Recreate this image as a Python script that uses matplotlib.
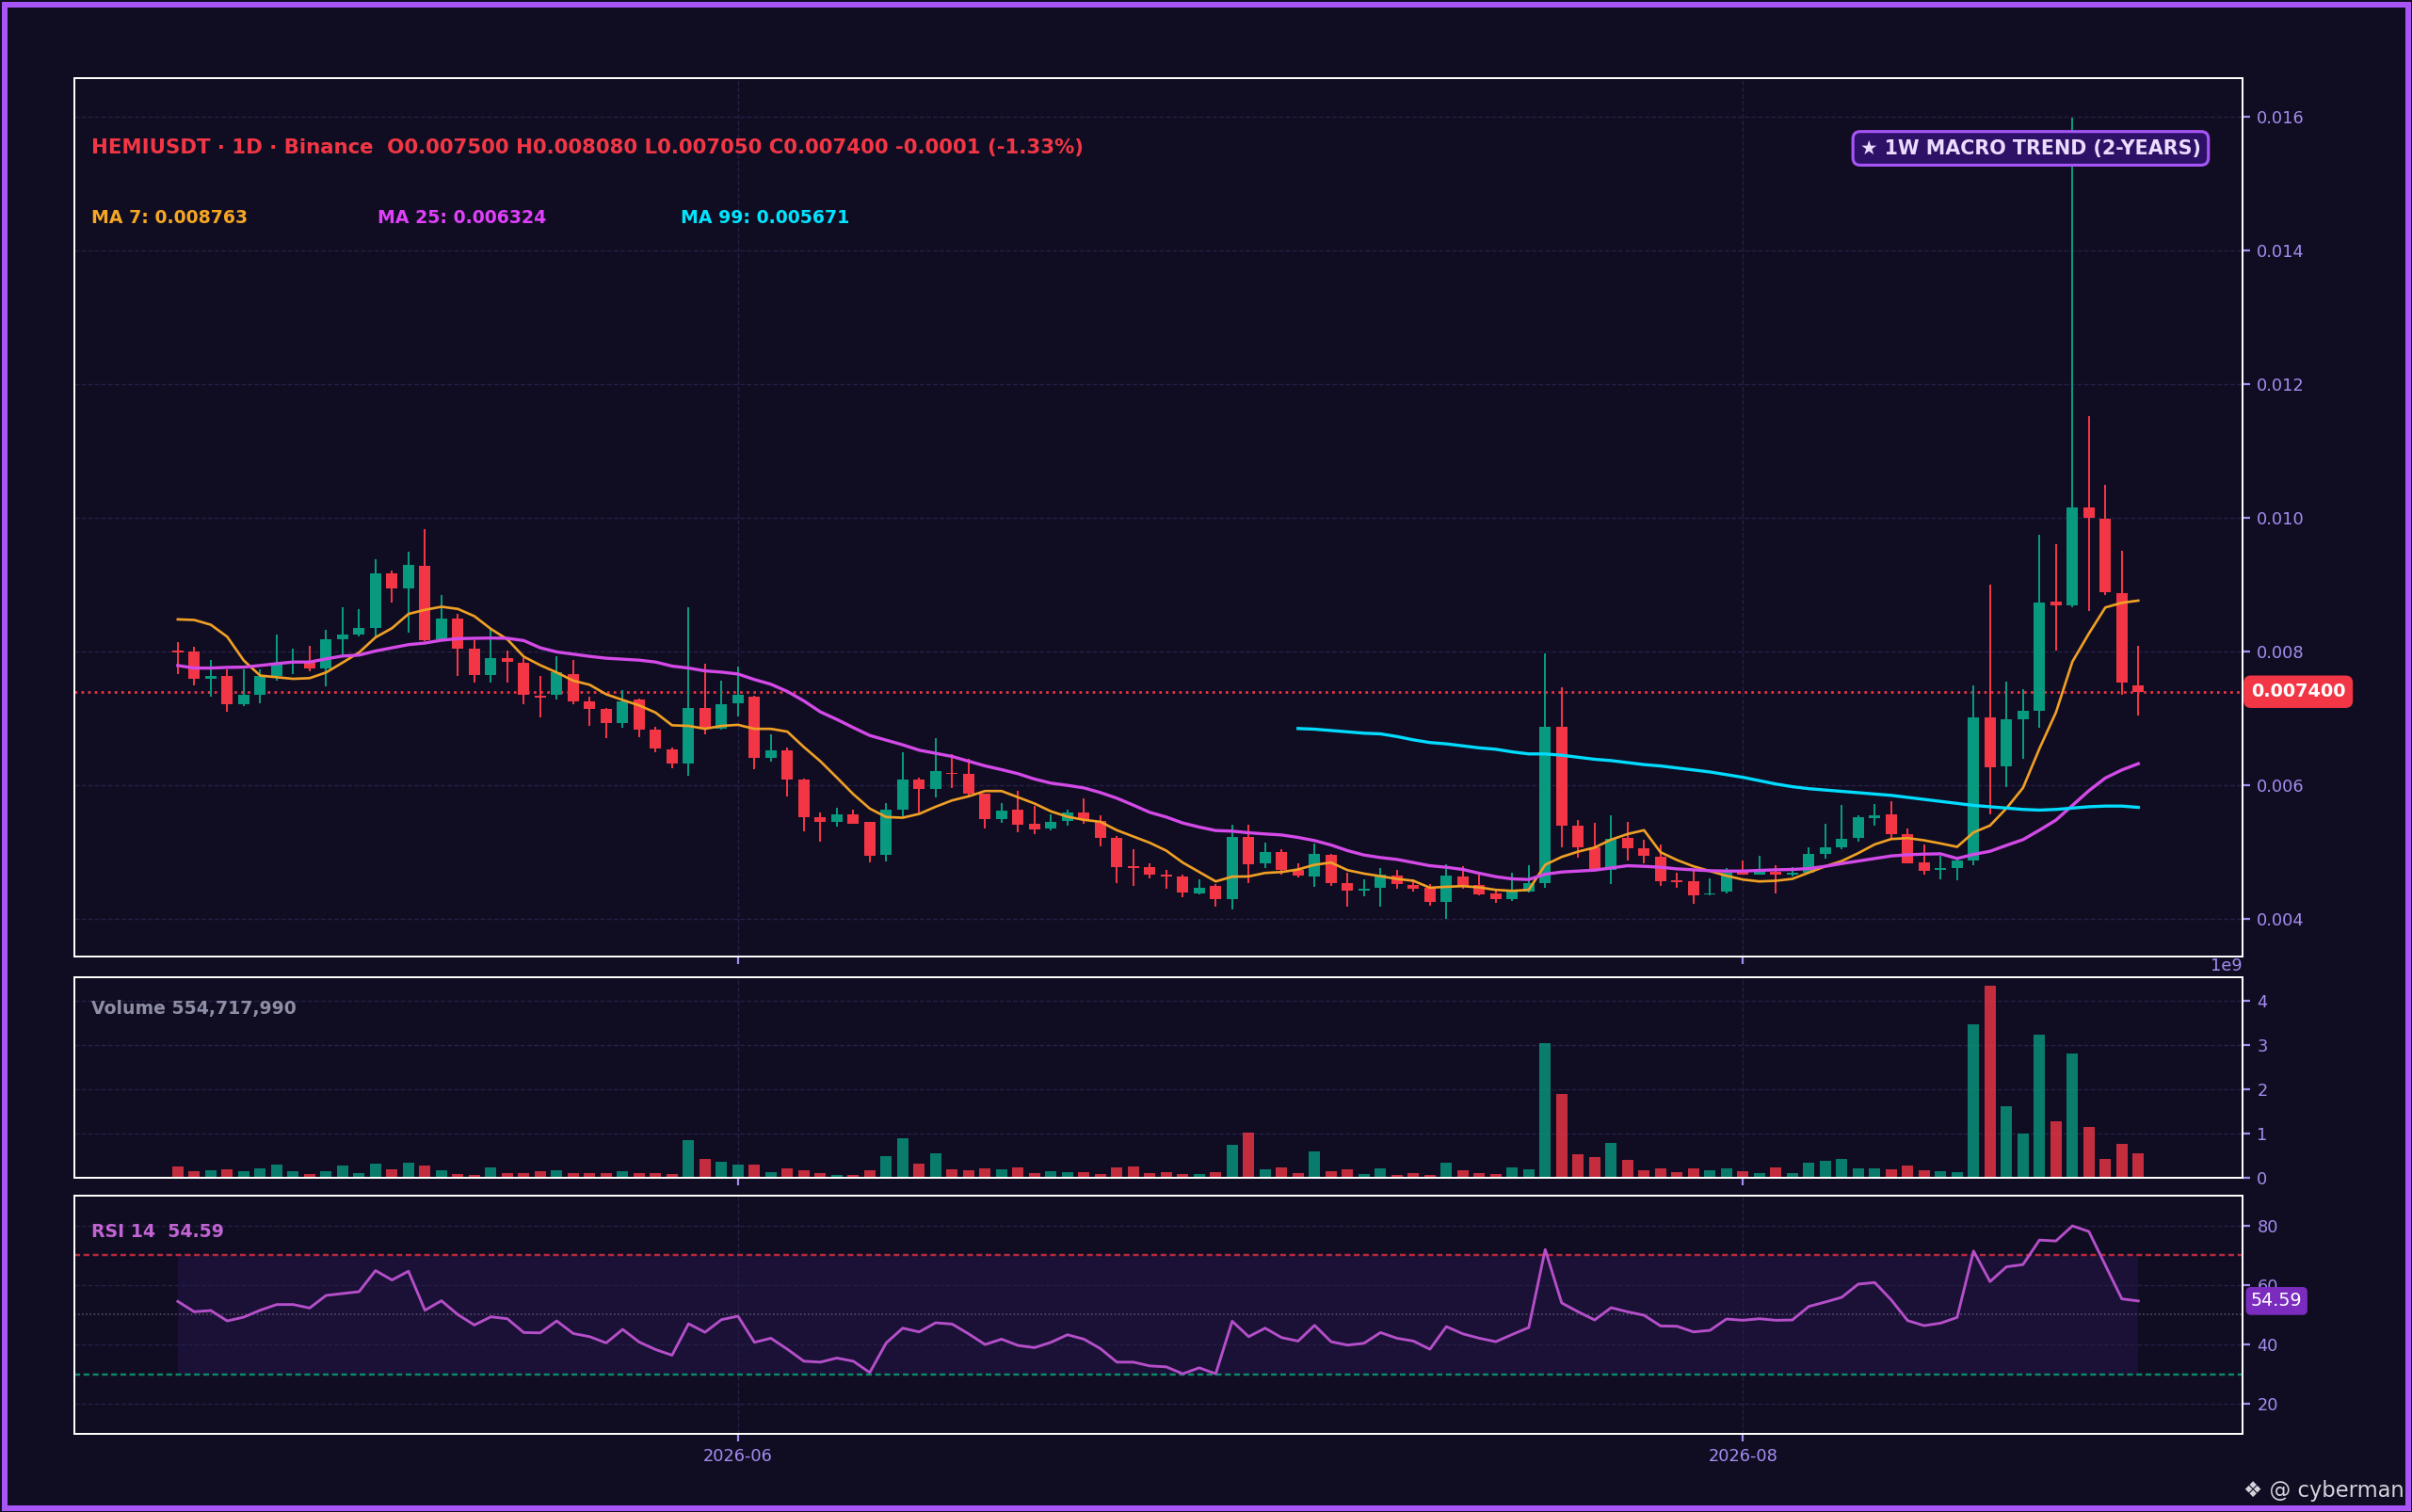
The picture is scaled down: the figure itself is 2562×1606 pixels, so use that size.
import numpy as np
import pandas as pd
import matplotlib
matplotlib.use("Agg")
import matplotlib.pyplot as plt
import matplotlib.dates as mdates
from matplotlib.ticker import FormatStrFormatter
from matplotlib.patches import Rectangle

BG = "#100d22"
UP = "#089981"
DOWN = "#f23645"
TICK = "#a58cf0"
GRID = "#261f45"

start_date = "2026-04-28"

opens = [0.00801, 0.00800, 0.00759, 0.00764, 0.00722, 0.00736, 0.00764, 0.00783, 0.00783, 0.00775,
         0.00819, 0.00825, 0.00836, 0.00917, 0.00895, 0.00928, 0.00819, 0.00850, 0.00805, 0.00765,
         0.00791, 0.00783, 0.00734, 0.00736, 0.00766, 0.00725, 0.00714, 0.00693, 0.00728, 0.00683,
         0.00654, 0.00632, 0.00715, 0.00685, 0.00723, 0.00733, 0.00641, 0.00652, 0.00609, 0.00552,
         0.00546, 0.00556, 0.00545, 0.00496, 0.00563, 0.00608, 0.00595, 0.00619, 0.00617, 0.00587,
         0.00550, 0.00563, 0.00542, 0.00535, 0.00547, 0.00559, 0.00547, 0.00522, 0.00478, 0.00478,
         0.00466, 0.00463, 0.00438, 0.00449, 0.00430, 0.00523, 0.00484, 0.00500, 0.00473, 0.00464,
         0.00496, 0.00454, 0.00443, 0.00447, 0.00465, 0.00451, 0.00447, 0.00426, 0.00463, 0.00451,
         0.00438, 0.00430, 0.00441, 0.00454, 0.00687, 0.00539, 0.00507, 0.00474, 0.00521, 0.00506,
         0.00493, 0.00458, 0.00456, 0.00437, 0.00441, 0.00471, 0.00467, 0.00471, 0.00467, 0.00469,
         0.00497, 0.00508, 0.00521, 0.00551, 0.00556, 0.00527, 0.00485, 0.00473, 0.00476, 0.00487,
         0.00701, 0.00628, 0.00699, 0.00711, 0.00875, 0.00869, 0.01016, 0.00999, 0.00887, 0.00750]
highs = [0.00814, 0.00807, 0.00787, 0.00773, 0.00774, 0.00774, 0.00825, 0.00805, 0.00809, 0.00833,
         0.00866, 0.00863, 0.00938, 0.00921, 0.00949, 0.00983, 0.00884, 0.00857, 0.00817, 0.00834,
         0.00802, 0.00790, 0.00764, 0.00793, 0.00787, 0.00733, 0.00716, 0.00742, 0.00730, 0.00687,
         0.00657, 0.00867, 0.00782, 0.00756, 0.00777, 0.00734, 0.00676, 0.00657, 0.00610, 0.00559,
         0.00566, 0.00564, 0.00545, 0.00574, 0.00649, 0.00612, 0.00670, 0.00646, 0.00639, 0.00588,
         0.00574, 0.00592, 0.00569, 0.00556, 0.00564, 0.00580, 0.00555, 0.00524, 0.00504, 0.00483,
         0.00473, 0.00466, 0.00459, 0.00452, 0.00541, 0.00541, 0.00515, 0.00504, 0.00483, 0.00513,
         0.00498, 0.00469, 0.00460, 0.00476, 0.00473, 0.00459, 0.00452, 0.00482, 0.00479, 0.00466,
         0.00442, 0.00470, 0.00481, 0.00797, 0.00747, 0.00548, 0.00544, 0.00555, 0.00545, 0.00518,
         0.00511, 0.00470, 0.00472, 0.00461, 0.00477, 0.00487, 0.00494, 0.00480, 0.00478, 0.00508,
         0.00542, 0.00570, 0.00555, 0.00572, 0.00576, 0.00535, 0.00511, 0.00494, 0.00493, 0.00749,
         0.00900, 0.00755, 0.00744, 0.00975, 0.00961, 0.01599, 0.01152, 0.01049, 0.00951, 0.00808]
lows = [0.00767, 0.00750, 0.00732, 0.00710, 0.00718, 0.00723, 0.00757, 0.00767, 0.00771, 0.00748,
        0.00794, 0.00823, 0.00822, 0.00873, 0.00828, 0.00816, 0.00817, 0.00764, 0.00754, 0.00753,
        0.00754, 0.00722, 0.00702, 0.00729, 0.00722, 0.00689, 0.00671, 0.00686, 0.00672, 0.00649,
        0.00625, 0.00615, 0.00676, 0.00683, 0.00703, 0.00624, 0.00636, 0.00584, 0.00531, 0.00516,
        0.00538, 0.00542, 0.00485, 0.00486, 0.00554, 0.00560, 0.00582, 0.00596, 0.00582, 0.00535,
        0.00544, 0.00530, 0.00527, 0.00533, 0.00540, 0.00543, 0.00509, 0.00454, 0.00450, 0.00461,
        0.00446, 0.00432, 0.00437, 0.00419, 0.00414, 0.00454, 0.00476, 0.00467, 0.00462, 0.00448,
        0.00450, 0.00419, 0.00434, 0.00419, 0.00446, 0.00441, 0.00420, 0.00400, 0.00445, 0.00435,
        0.00424, 0.00427, 0.00440, 0.00447, 0.00508, 0.00492, 0.00473, 0.00453, 0.00488, 0.00484,
        0.00450, 0.00447, 0.00423, 0.00436, 0.00438, 0.00466, 0.00466, 0.00439, 0.00463, 0.00468,
        0.00490, 0.00505, 0.00516, 0.00539, 0.00522, 0.00483, 0.00466, 0.00459, 0.00458, 0.00481,
        0.00556, 0.00598, 0.00640, 0.00686, 0.00802, 0.00866, 0.00861, 0.00884, 0.00736, 0.00705]
closes = [0.00799, 0.00759, 0.00763, 0.00722, 0.00735, 0.00764, 0.00781, 0.00786, 0.00775, 0.00819,
          0.00826, 0.00835, 0.00917, 0.00895, 0.00930, 0.00817, 0.00850, 0.00805, 0.00765, 0.00791,
          0.00785, 0.00736, 0.00731, 0.00769, 0.00725, 0.00714, 0.00693, 0.00726, 0.00683, 0.00655,
          0.00632, 0.00715, 0.00685, 0.00722, 0.00735, 0.00641, 0.00652, 0.00609, 0.00553, 0.00546,
          0.00556, 0.00543, 0.00494, 0.00563, 0.00608, 0.00595, 0.00621, 0.00617, 0.00587, 0.00549,
          0.00562, 0.00541, 0.00534, 0.00545, 0.00560, 0.00548, 0.00522, 0.00478, 0.00477, 0.00466,
          0.00463, 0.00440, 0.00447, 0.00430, 0.00523, 0.00482, 0.00500, 0.00473, 0.00465, 0.00497,
          0.00454, 0.00443, 0.00446, 0.00466, 0.00452, 0.00445, 0.00426, 0.00465, 0.00450, 0.00437,
          0.00430, 0.00441, 0.00454, 0.00687, 0.00539, 0.00507, 0.00474, 0.00520, 0.00506, 0.00494,
          0.00456, 0.00455, 0.00436, 0.00439, 0.00470, 0.00467, 0.00471, 0.00467, 0.00468, 0.00497,
          0.00508, 0.00520, 0.00552, 0.00555, 0.00527, 0.00484, 0.00472, 0.00476, 0.00487, 0.00701,
          0.00627, 0.00699, 0.00712, 0.00873, 0.00869, 0.01016, 0.01000, 0.00889, 0.00753, 0.00740]

# volume in billions
volume_bn = [0.248, 0.142, 0.163, 0.184, 0.142, 0.206, 0.291, 0.142, 0.078, 0.142,
             0.270, 0.099, 0.312, 0.184, 0.333, 0.270, 0.163, 0.078, 0.057, 0.227,
             0.099, 0.099, 0.142, 0.163, 0.099, 0.099, 0.099, 0.142, 0.099, 0.099,
             0.078, 0.844, 0.418, 0.355, 0.291, 0.291, 0.121, 0.206, 0.163, 0.099,
             0.057, 0.057, 0.163, 0.482, 0.887, 0.312, 0.546, 0.184, 0.163, 0.206,
             0.184, 0.227, 0.099, 0.142, 0.121, 0.121, 0.078, 0.227, 0.248, 0.099,
             0.121, 0.078, 0.078, 0.121, 0.738, 1.014, 0.184, 0.227, 0.099, 0.589,
             0.142, 0.184, 0.078, 0.206, 0.057, 0.099, 0.057, 0.333, 0.163, 0.099,
             0.078, 0.227, 0.184, 3.035, 1.887, 0.525, 0.461, 0.780, 0.397, 0.163,
             0.206, 0.121, 0.206, 0.163, 0.206, 0.142, 0.099, 0.227, 0.099, 0.333,
             0.376, 0.418, 0.206, 0.206, 0.184, 0.270, 0.163, 0.142, 0.121, 3.461,
             4.333, 1.610, 0.993, 3.227, 1.270, 2.801, 1.142, 0.418, 0.759, 0.55471799]

ma7 = [0.008482, 0.008473, 0.008402, 0.008222, 0.007868, 0.007641, 0.007617, 0.007593, 0.007603, 0.007688,
       0.007835, 0.007986, 0.008213, 0.008350, 0.008563, 0.008624, 0.008671, 0.008638, 0.008530, 0.008340,
       0.008184, 0.007924, 0.007797, 0.007688, 0.007565, 0.007504, 0.007362, 0.007277, 0.007196, 0.007088,
       0.006898, 0.006889, 0.006846, 0.006889, 0.006905, 0.006845, 0.006845, 0.006803, 0.006573, 0.006361,
       0.006117, 0.005868, 0.005653, 0.005526, 0.005516, 0.005573, 0.005680, 0.005775, 0.005836, 0.005915,
       0.005915, 0.005822, 0.005728, 0.005611, 0.005531, 0.005484, 0.005455, 0.005329, 0.005235, 0.005141,
       0.005023, 0.004845, 0.004704, 0.004563, 0.004634, 0.004638, 0.004690, 0.004704, 0.004742, 0.004812,
       0.004845, 0.004732, 0.004680, 0.004641, 0.004601, 0.004573, 0.004469, 0.004483, 0.004493, 0.004474,
       0.004437, 0.004422, 0.004437, 0.004812, 0.004930, 0.005009, 0.005070, 0.005188, 0.005272, 0.005329,
       0.005000, 0.004883, 0.004789, 0.004718, 0.004648, 0.004591, 0.004563, 0.004573, 0.004601, 0.004695,
       0.004789, 0.004868, 0.004986, 0.005117, 0.005197, 0.005211, 0.005178, 0.005131, 0.005080, 0.005296,
       0.005399, 0.005657, 0.005962, 0.006550, 0.007090, 0.007850, 0.008270, 0.008660, 0.008730, 0.008763]
ma25 = [0.007792, 0.007754, 0.007754, 0.007764, 0.007768, 0.007792, 0.007820, 0.007844, 0.007844, 0.007891,
        0.007934, 0.007948, 0.008009, 0.008057, 0.008104, 0.008128, 0.008170, 0.008194, 0.008199, 0.008203,
        0.008199, 0.008165, 0.008057, 0.007995, 0.007962, 0.007929, 0.007901, 0.007887, 0.007872, 0.007844,
        0.007783, 0.007754, 0.007712, 0.007693, 0.007665, 0.007582, 0.007512, 0.007404, 0.007263, 0.007099,
        0.006986, 0.006864, 0.006746, 0.006676, 0.006606, 0.006526, 0.006479, 0.006432, 0.006361, 0.006291,
        0.006235, 0.006174, 0.006094, 0.006033, 0.006000, 0.005962, 0.005892, 0.005808, 0.005704, 0.005596,
        0.005526, 0.005437, 0.005376, 0.005324, 0.005315, 0.005291, 0.005273, 0.005258, 0.005221, 0.005174,
        0.005108, 0.005024, 0.004958, 0.004920, 0.004892, 0.004845, 0.004798, 0.004775, 0.004742, 0.004685,
        0.004634, 0.004601, 0.004592, 0.004671, 0.004704, 0.004718, 0.004732, 0.004765, 0.004798, 0.004789,
        0.004775, 0.004751, 0.004737, 0.004723, 0.004718, 0.004718, 0.004728, 0.004737, 0.004742, 0.004756,
        0.004789, 0.004831, 0.004868, 0.004906, 0.004944, 0.004962, 0.004972, 0.004976, 0.004906, 0.004967,
        0.005014, 0.005103, 0.005188, 0.005330, 0.005480, 0.005700, 0.005920, 0.006110, 0.006230, 0.006324]
ma99_first = 68
ma99 = [0.00685, 0.00684, 0.00682, 0.00680, 0.00678, 0.00677, 0.00673, 0.00668, 0.00664, 0.00662,
        0.00659, 0.00656, 0.00654, 0.00650, 0.00647, 0.00647, 0.00645, 0.00642, 0.00639, 0.00637,
        0.00634, 0.00631, 0.00629, 0.00626, 0.00623, 0.00620, 0.00616, 0.00612, 0.00607, 0.00602,
        0.00598, 0.00595, 0.00593, 0.00591, 0.00589, 0.00587, 0.00585, 0.00582, 0.00579, 0.00576,
        0.00573, 0.00570, 0.00568, 0.00566, 0.00564, 0.00563, 0.00564, 0.00566, 0.00568, 0.00569,
        0.00569, 0.005671]

rsi = [54.44, 50.95, 51.38, 47.88, 49.15, 51.48, 53.39, 53.39, 52.22, 56.46,
       57.09, 57.72, 64.81, 61.64, 64.60, 51.48, 54.66, 50.00, 46.51, 49.26,
       48.62, 43.97, 43.86, 47.88, 43.65, 42.59, 40.48, 45.03, 40.79, 38.25,
       36.35, 46.93, 44.07, 48.31, 49.47, 40.69, 42.06, 38.36, 34.34, 34.02,
       35.40, 34.34, 30.53, 40.48, 45.45, 44.18, 47.25, 46.83, 43.54, 39.95,
       41.75, 39.63, 38.89, 40.69, 43.23, 41.75, 38.57, 34.02, 34.02, 32.75,
       32.43, 30.10, 32.12, 30.10, 47.78, 42.59, 45.45, 42.28, 41.11, 46.40,
       40.90, 39.74, 40.37, 43.97, 42.06, 41.11, 38.36, 45.98, 43.54, 42.06,
       40.90, 43.33, 45.66, 71.90, 53.92, 50.95, 48.20, 52.33, 50.95, 49.79,
       46.19, 46.08, 44.18, 44.71, 48.52, 48.10, 48.62, 48.10, 48.20, 52.75,
       54.23, 55.82, 60.26, 60.79, 54.97, 47.99, 46.30, 47.14, 49.05, 71.38,
       61.11, 66.08, 66.83, 75.08, 74.76, 79.84, 77.94, 66.61, 55.29, 54.59]

dates = pd.date_range(start_date, periods=len(closes), freq="D")
x = mdates.date2num(dates)
o = np.array(opens)
h = np.array(highs)
l = np.array(lows)
c = np.array(closes)
vol = np.array(volume_bn) * 1e9
colors = np.where(c >= o, UP, DOWN)

fig = plt.figure(figsize=(2562 / 160, 1606 / 160), dpi=160, facecolor=BG)
W, H = 2562, 1606


def box(left, top, right, bottom):
    return [left / W, 1 - bottom / H, (right - left) / W, (bottom - top) / H]


ax = fig.add_axes(box(78.8, 82.7, 2381.7, 1016))
axv = fig.add_axes(box(78.8, 1037.6, 2381.7, 1250.7), sharex=ax)
axr = fig.add_axes(box(78.8, 1270, 2381.7, 1522.7), sharex=ax)

for a in (ax, axv, axr):
    a.set_facecolor(BG)
    for s in a.spines.values():
        s.set_color("white")
        s.set_linewidth(0.9)
    a.yaxis.tick_right()
    a.tick_params(colors=TICK, labelsize=8, length=3.5, width=1)
    a.grid(True, color=GRID, ls="--", lw=0.6)
    a.set_axisbelow(True)

# candles
ax.vlines(x, l, h, colors=colors, lw=0.9, zorder=2)
body = np.maximum(np.abs(c - o), 0.00002)
ax.bar(x, body, bottom=np.minimum(o, c), width=0.7, color=colors, lw=0, zorder=3)

ax.plot(x, ma7, color="#f0a024", lw=1.2, zorder=4)
ax.plot(x, ma25, color="#d44ae8", lw=1.5, zorder=4)
ax.plot(x[ma99_first:], ma99, color="#00dcff", lw=1.5, zorder=4)

last = c[-1]
ax.axhline(last, color=DOWN, ls=":", lw=1.2, zorder=1)
ax.text(1.004, last, f"{last:.6f}", transform=ax.get_yaxis_transform(), ha="left", va="center",
        color="white", fontsize=8.7, fontweight="bold", clip_on=False,
        bbox=dict(boxstyle="round,pad=0.4", fc=DOWN, ec="none"))

ax.set_ylim(0.00344, 0.01658)
ax.set_yticks(np.arange(0.004, 0.0161, 0.002))
ax.yaxis.set_major_formatter(FormatStrFormatter("%.3f"))
ax.set_xlim(x[0] - 6.29, x[0] + 125.31)
ax.xaxis.set_major_locator(mdates.MonthLocator(bymonth=range(2, 13, 2)))
ax.xaxis.set_major_formatter(mdates.DateFormatter("%Y-%m"))
ax.tick_params(axis="x", labelbottom=False)
axv.tick_params(axis="x", labelbottom=False)

chg = last - o[-1]
title = (f"HEMIUSDT · 1D · Binance  O{o[-1]:.6f} H{h[-1]:.6f} L{l[-1]:.6f} C{last:.6f} "
         f"{chg:.4f} ({chg / o[-1] * 100:.2f}%)")
ax.text(0.0079, 0.9204, title, transform=ax.transAxes, color=DOWN, fontsize=9.55,
        fontweight="bold", va="center")
ax.text(0.0079, 0.8404, f"MA 7: {ma7[-1]:.6f}", transform=ax.transAxes, color="#f5a623",
        fontsize=8.5, fontweight="bold", va="center")
ax.text(0.1399, 0.8404, f"MA 25: {ma25[-1]:.6f}", transform=ax.transAxes, color="#e040fb",
        fontsize=8.5, fontweight="bold", va="center")
ax.text(0.2797, 0.8404, f"MA 99: {ma99[-1]:.6f}", transform=ax.transAxes, color="#00e5ff",
        fontsize=8.5, fontweight="bold", va="center")
ax.text(0.9024, 0.9198, "★ 1W MACRO TREND (2-YEARS)", transform=ax.transAxes, ha="center",
        va="center", color="#ecdcff", fontsize=9.3, fontweight="bold", zorder=6,
        bbox=dict(boxstyle="round,pad=0.38", fc="#2d1166", ec="#a855f7", lw=1.4))

# volume
axv.bar(x, vol, width=0.7, color=colors, alpha=0.8, lw=0)
axv.set_ylim(0, 4.53e9)
axv.set_yticks([0, 1e9, 2e9, 3e9, 4e9])
axv.yaxis.set_offset_position("right")
axv.yaxis.get_offset_text().set_color(TICK)
axv.yaxis.get_offset_text().set_fontsize(8)
axv.text(0.0079, 0.84, f"Volume {vol[-1]:,.0f}", transform=axv.transAxes, color="#8d8ea6",
         fontsize=8.5, fontweight="bold", va="center")

# rsi
axr.fill_between([x[0], x[-1]], 30, 70, color="#1b1036", lw=0, zorder=0)
axr.axhline(70, color="#b8283c", ls=(0, (2.5, 1.5)), lw=1.1)
axr.axhline(30, color="#0b8a6a", ls=(0, (2.5, 1.5)), lw=1.1)
axr.axhline(50, color="#5a5670", ls=":", lw=0.7)
axr.plot(x, rsi, color="#b54fc9", lw=1.3, zorder=3)
axr.set_ylim(10, 90)
axr.set_yticks([20, 40, 60, 80])
axr.text(0.0079, 0.848, f"RSI 14  {rsi[-1]:.2f}", transform=axr.transAxes, color="#c264d4",
         fontsize=8.5, fontweight="bold", va="center")
axr.text(1.004, rsi[-1], f"{rsi[-1]:.2f}", transform=axr.get_yaxis_transform(), ha="left",
         va="center", color="white", fontsize=8.6, clip_on=False,
         bbox=dict(boxstyle="round,pad=0.28", fc="#7b2cbf", ec="none"))

fig.text(2383 / W, 1 - 1590 / H, "❖ @ cyberman", color="#d4d4dc", fontsize=10.2, va="baseline")
fig.patches.append(Rectangle((4.5 / W, 4.5 / H), 1 - 9 / W, 1 - 9 / H, transform=fig.transFigure,
                             fill=False, ec="#a855f7", lw=2.7, zorder=10))

fig.savefig("out.png", dpi=160, facecolor=BG)
